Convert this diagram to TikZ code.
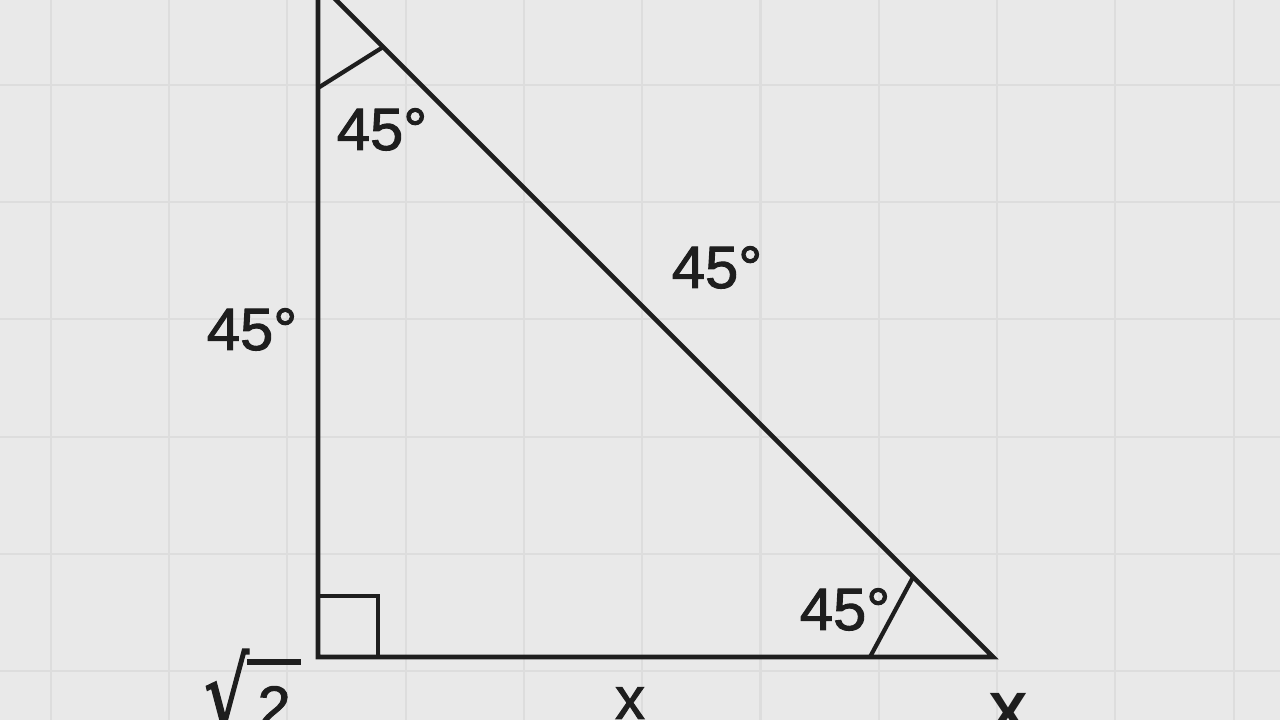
\documentclass[tikz,border=0pt]{standalone}
\usepackage{fontspec}
\setmainfont{Liberation Sans}
\newfontfamily\labelfont{Liberation Sans}[RawFeature={embolden=1.6}]
\newfontfamily\symfont{DejaVu Sans}[RawFeature={embolden=1.8}]
\usetikzlibrary{calc}
\definecolor{paper}{RGB}{233,233,233}
\definecolor{gridline}{RGB}{221,221,221}
\definecolor{ink}{RGB}{30,30,30}
\newcommand{\roottwo}{\scalebox{1}[1.38]{\symfont\fontsize{20}{22}\selectfont √}\kern-0.6pt\rlap{\rule[17.8pt]{15.5pt}{1.7pt}}\kern3pt 2\kern3pt}
\tikzset{
  leg/.style={ink, line width=1.3pt, line join=miter},
  tick/.style={ink, line width=1.2pt},
  lbl/.style={ink, anchor=base, inner sep=0pt, font=\fontsize{17}{20}\selectfont\labelfont},
}

\begin{document}
\begin{tikzpicture}
    \useasboundingbox (0,0) rectangle (12.8,7.2);
    \fill[paper] (0,0) rectangle (12.8,7.2);
    \clip (0,0) rectangle (12.8,7.2);

    % grid paper
    \foreach \x in {0, ..., 10} \draw[gridline, line width=0.6pt] ({0.507+1.183*\x},0) -- ({0.507+1.183*\x},7.2);
    \foreach \y in {0, ..., 5} \draw[gridline, line width=0.6pt] (0,{0.49+1.172*\y}) -- (12.8,{0.49+1.172*\y});

    \coordinate (A) at (3.18,0.63);
    \coordinate (B) at (9.93,0.63);
    \coordinate (C) at (3.18,7.38);
    \draw[leg] (C) -- (A) -- (B) -- cycle;
    \draw[tick] (A) ++(0,0.61) -| ++(0.60,-0.61);
    \draw[tick] ($(C)!1.06cm!(A)$) -- ($(C)!0.92cm!(B)$);
    \draw[tick] ($(B)!1.23cm!(A)$) -- ($(B)!1.13cm!(C)$);

    \node[lbl] (topang) at (3.82,5.70) {45°};
    \node[lbl] (leftang) at (2.52,3.70) {45°};
    \node[lbl] (hypang) at (7.17,4.32) {45°};
    \node[lbl] (botang) at (8.45,0.90) {45°};
    \node[lbl] (xbase) at (6.30,0.01) {x};
    \node[lbl, font=\fontsize{17}{20}\selectfont\bfseries] (xcorner) at (10.08,-0.15) {X};
    \node[lbl, anchor=base east] (sqrtlbl) at (3.02,-0.08) {\roottwo};
\end{tikzpicture}
\end{document}
